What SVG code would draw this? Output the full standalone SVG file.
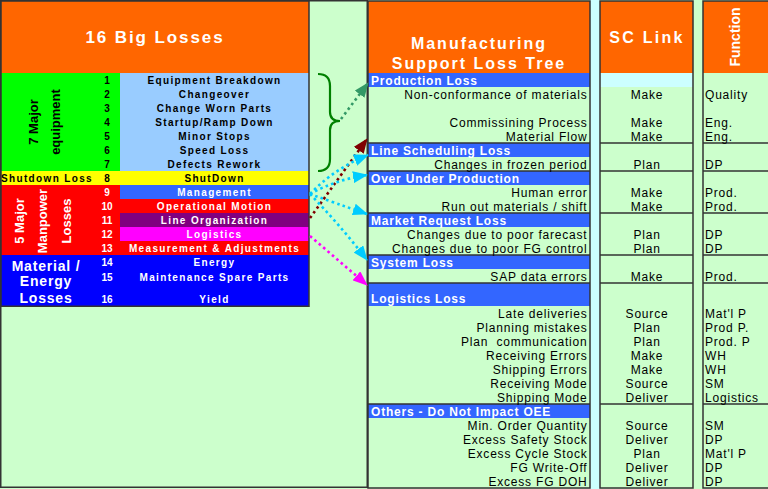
<svg xmlns="http://www.w3.org/2000/svg" width="768" height="489" viewBox="0 0 768 489">
<style>
text{font-family:"Liberation Sans",Arial,sans-serif}
.lb{font-weight:bold;font-size:10px;letter-spacing:1.35px;text-anchor:middle;fill:#000}
.num{font-weight:bold;font-size:10px;text-anchor:middle;fill:#000}
.hd{font-weight:bold;fill:#fff;text-anchor:middle}
.grp{font-weight:bold;font-size:13px;text-anchor:middle}
.sec{font-weight:bold;font-size:12px;letter-spacing:0.8px;fill:#fff}
.dt{font-size:12px;letter-spacing:0.8px;fill:#000;text-anchor:end}
.sc{font-size:12px;letter-spacing:0.8px;fill:#000;text-anchor:middle}
.fn{font-size:12px;letter-spacing:0.8px;fill:#000}
text.lw{fill:#fff}
.bd{fill:none;stroke:#333;stroke-width:1.5}
.hl{stroke:#333;stroke-width:1.5}
.dot{fill:none;stroke-width:2.6;stroke-dasharray:2.6 3.2}
</style>
<defs>
<marker id="mg" viewBox="0 0 15 12" refX="14" refY="6" markerWidth="15" markerHeight="12" markerUnits="userSpaceOnUse" orient="auto"><path d="M0,0 L15,6 L0,12 z" fill="#339966"/></marker>
<marker id="mr" viewBox="0 0 15 12" refX="14" refY="6" markerWidth="15" markerHeight="12" markerUnits="userSpaceOnUse" orient="auto"><path d="M0,0 L15,6 L0,12 z" fill="#7F0000"/></marker>
<marker id="mc" viewBox="0 0 15 12" refX="14" refY="6" markerWidth="15" markerHeight="12" markerUnits="userSpaceOnUse" orient="auto"><path d="M0,0 L15,6 L0,12 z" fill="#00CCFF"/></marker>
<marker id="mm" viewBox="0 0 15 12" refX="14" refY="6" markerWidth="15" markerHeight="12" markerUnits="userSpaceOnUse" orient="auto"><path d="M0,0 L15,6 L0,12 z" fill="#FF00FF"/></marker>
</defs>
<rect x="0" y="0" width="768" height="489" fill="#CCFFCC"/>

<g id="big-losses">
<rect x="0" y="0" width="309" height="73" fill="#FF6600"/>
<text class="hd" x="155" y="43" font-size="17" letter-spacing="1.9">16 Big Losses</text>
<rect x="0" y="73" width="120" height="98" fill="#00FF00"/>
<rect x="120" y="73" width="189" height="98" fill="#99CCFF"/>
<rect x="0" y="171" width="309" height="14" fill="#FFFF00"/>
<rect x="0" y="185" width="309" height="70" fill="#FF0000"/>
<rect x="120" y="185" width="189" height="14" fill="#3366FF"/>
<rect x="120" y="213" width="189" height="14" fill="#800080"/>
<rect x="120" y="227" width="189" height="14" fill="#FF00FF"/>
<rect x="0" y="255" width="309" height="51" fill="#0000FF"/>
<rect class="bd" x="0.75" y="0.75" width="308.25" height="305.5"/>
</g>

<g id="equipment-losses">
<text class="grp" transform="translate(38,122) rotate(-90)">7 Major</text>
<text class="grp" transform="translate(60,122) rotate(-90)">equipment</text>
<text class="num" x="107" y="84.3">1</text><text class="lb" x="214.5" y="84.3">Equipment Breakdown</text>
<text class="num" x="107" y="98.3">2</text><text class="lb" x="214.5" y="98.3">Changeover</text>
<text class="num" x="107" y="112.3">3</text><text class="lb" x="214.5" y="112.3">Change Worn Parts</text>
<text class="num" x="107" y="126.3">4</text><text class="lb" x="214.5" y="126.3">Startup/Ramp Down</text>
<text class="num" x="107" y="140.3">5</text><text class="lb" x="214.5" y="140.3">Minor Stops</text>
<text class="num" x="107" y="154.3">6</text><text class="lb" x="214.5" y="154.3">Speed Loss</text>
<text class="num" x="107" y="168.3">7</text><text class="lb" x="214.5" y="168.3">Defects Rework</text>
</g>

<g id="shutdown-loss">
<text class="lb" x="1" y="182.3" style="text-anchor:start">Shutdown Loss</text>
<text class="num" x="107" y="182.3">8</text><text class="lb" x="214.5" y="182.3">ShutDown</text>
</g>

<g id="manpower-losses">
<text class="grp lw" transform="translate(24,221) rotate(-90)">5 Major</text>
<text class="grp lw" transform="translate(47,221) rotate(-90)">Manpower</text>
<text class="grp lw" transform="translate(71,221) rotate(-90)">Losses</text>
<text class="num lw" x="107" y="196.3">9</text><text class="lb lw" x="214.5" y="196.3">Management</text>
<text class="num lw" x="107" y="210.3">10</text><text class="lb lw" x="214.5" y="210.3">Operational Motion</text>
<text class="num lw" x="107" y="224.3">11</text><text class="lb lw" x="214.5" y="224.3">Line Organization</text>
<text class="num lw" x="107" y="238.3">12</text><text class="lb lw" x="214.5" y="238.3">Logistics</text>
<text class="num lw" x="107" y="252.3">13</text><text class="lb lw" x="214.5" y="252.3">Measurement &amp; Adjustments</text>
</g>

<g id="material-energy-losses">
<text class="hd" x="46" y="270.5" font-size="14" letter-spacing="0.8">Material /</text>
<text class="hd" x="46" y="286" font-size="14" letter-spacing="0.8">Energy</text>
<text class="hd" x="46" y="303" font-size="14" letter-spacing="0.8">Losses</text>
<text class="num lw" x="107" y="265.5">14</text><text class="lb lw" x="214.5" y="265.5">Energy</text>
<text class="num lw" x="107" y="280.5">15</text><text class="lb lw" x="214.5" y="280.5">Maintenance Spare Parts</text>
<text class="num lw" x="107" y="302.5">16</text><text class="lb lw" x="214.5" y="302.5">Yield</text>
</g>

<rect id="left-panel" class="bd" x="0.75" y="0.75" width="366.5" height="486.5"/>

<g id="loss-tree">
<rect x="590" y="0" width="10" height="489" fill="#CCFFFF"/>
<rect x="368" y="1" width="222" height="72" fill="#FF6600"/>
<rect x="600" y="1" width="93" height="72" fill="#FF6600"/>
<rect x="600" y="73" width="93" height="14" fill="#CCFFFF"/>
<rect x="703" y="1" width="65" height="72" fill="#FF6600"/>
<text class="hd" x="479" y="49" font-size="16" letter-spacing="2">Manufacturing</text>
<text class="hd" x="479" y="69" font-size="16" letter-spacing="2">Support Loss Tree</text>
<text class="hd" x="647" y="43" font-size="16" letter-spacing="2.3">SC Link</text>
<text class="hd" transform="translate(740,37) rotate(-90)" font-size="14">Function</text>
<rect x="368" y="73" width="222" height="14" fill="#3366FF"/>
<rect x="368" y="143" width="222" height="14" fill="#3366FF"/>
<rect x="368" y="171" width="222" height="14" fill="#3366FF"/>
<rect x="368" y="213" width="222" height="14" fill="#3366FF"/>
<rect x="368" y="255" width="222" height="14" fill="#3366FF"/>
<rect x="368" y="283" width="222" height="23" fill="#3366FF"/>
<rect x="368" y="404" width="222" height="14" fill="#3366FF"/>
<g class="hl">
<line x1="368" y1="143" x2="590" y2="143"/><line x1="600" y1="143" x2="693" y2="143"/><line x1="703" y1="143" x2="768" y2="143"/>
<line x1="368" y1="171" x2="590" y2="171"/><line x1="600" y1="171" x2="693" y2="171"/><line x1="703" y1="171" x2="768" y2="171"/>
<line x1="368" y1="213" x2="590" y2="213"/><line x1="600" y1="213" x2="693" y2="213"/><line x1="703" y1="213" x2="768" y2="213"/>
<line x1="368" y1="255" x2="590" y2="255"/><line x1="600" y1="255" x2="693" y2="255"/><line x1="703" y1="255" x2="768" y2="255"/>
<line x1="368" y1="283" x2="590" y2="283"/><line x1="600" y1="283" x2="693" y2="283"/><line x1="703" y1="283" x2="768" y2="283"/>
<line x1="368" y1="404" x2="590" y2="404"/><line x1="600" y1="404" x2="693" y2="404"/><line x1="703" y1="404" x2="768" y2="404"/>
</g>
<rect class="bd" x="368" y="1" width="222" height="487"/>
<rect class="bd" x="600" y="1" width="93" height="487"/>
<rect class="bd" x="703" y="1" width="66" height="487"/>

<text class="sec" x="371" y="84.5">Production Loss</text>
<text class="dt" x="587.5" y="98.5">Non-conformance of materials</text><text class="sc" x="647" y="98.5">Make</text><text class="fn" x="705" y="98.5">Quality</text>
<text class="dt" x="587.5" y="126.5">Commissining Process</text><text class="sc" x="647" y="126.5">Make</text><text class="fn" x="705" y="126.5">Eng.</text>
<text class="dt" x="587.5" y="140.5">Material Flow</text><text class="sc" x="647" y="140.5">Make</text><text class="fn" x="705" y="140.5">Eng.</text>
<text class="sec" x="371" y="154.5">Line Scheduling Loss</text>
<text class="dt" x="587.5" y="168.5">Changes in frozen period</text><text class="sc" x="647" y="168.5">Plan</text><text class="fn" x="705" y="168.5">DP</text>
<text class="sec" x="371" y="182.5">Over Under Production</text>
<text class="dt" x="587.5" y="196.5">Human error</text><text class="sc" x="647" y="196.5">Make</text><text class="fn" x="705" y="196.5">Prod.</text>
<text class="dt" x="587.5" y="210.5">Run out materials / shift</text><text class="sc" x="647" y="210.5">Make</text><text class="fn" x="705" y="210.5">Prod.</text>
<text class="sec" x="371" y="224.5">Market Request Loss</text>
<text class="dt" x="587.5" y="238.5">Changes due to poor farecast</text><text class="sc" x="647" y="238.5">Plan</text><text class="fn" x="705" y="238.5">DP</text>
<text class="dt" x="587.5" y="252.5">Changes due to poor FG control</text><text class="sc" x="647" y="252.5">Plan</text><text class="fn" x="705" y="252.5">DP</text>
<text class="sec" x="371" y="266.5">System Loss</text>
<text class="dt" x="587.5" y="280.5">SAP data errors</text><text class="sc" x="647" y="280.5">Make</text><text class="fn" x="705" y="280.5">Prod.</text>
<text class="sec" x="371" y="303">Logistics Loss</text>
<text class="dt" x="587.5" y="317.5">Late deliveries</text><text class="sc" x="647" y="317.5">Source</text><text class="fn" x="705" y="317.5">Mat'l P</text>
<text class="dt" x="587.5" y="331.5">Planning mistakes</text><text class="sc" x="647" y="331.5">Plan</text><text class="fn" x="705" y="331.5">Prod P.</text>
<text class="dt" x="587.5" y="345.5" xml:space="preserve">Plan  communication</text><text class="sc" x="647" y="345.5">Plan</text><text class="fn" x="705" y="345.5">Prod. P</text>
<text class="dt" x="587.5" y="359.5">Receiving Errors</text><text class="sc" x="647" y="359.5">Make</text><text class="fn" x="705" y="359.5">WH</text>
<text class="dt" x="587.5" y="373.5">Shipping Errors</text><text class="sc" x="647" y="373.5">Make</text><text class="fn" x="705" y="373.5">WH</text>
<text class="dt" x="587.5" y="387.5">Receiving Mode</text><text class="sc" x="647" y="387.5">Source</text><text class="fn" x="705" y="387.5">SM</text>
<text class="dt" x="587.5" y="401.5">Shipping Mode</text><text class="sc" x="647" y="401.5">Deliver</text><text class="fn" x="705" y="401.5">Logistics</text>
<text class="sec" x="371" y="415.5">Others - Do Not Impact OEE</text>
<text class="dt" x="587.5" y="429.5">Min. Order Quantity</text><text class="sc" x="647" y="429.5">Source</text><text class="fn" x="705" y="429.5">SM</text>
<text class="dt" x="587.5" y="443.5">Excess Safety Stock</text><text class="sc" x="647" y="443.5">Deliver</text><text class="fn" x="705" y="443.5">DP</text>
<text class="dt" x="587.5" y="457.5">Excess Cycle Stock</text><text class="sc" x="647" y="457.5">Plan</text><text class="fn" x="705" y="457.5">Mat'l P</text>
<text class="dt" x="587.5" y="471.5">FG Write-Off</text><text class="sc" x="647" y="471.5">Deliver</text><text class="fn" x="705" y="471.5">DP</text>
<text class="dt" x="587.5" y="485.5">Excess FG DOH</text><text class="sc" x="647" y="485.5">Deliver</text><text class="fn" x="705" y="485.5">DP</text>
</g>

<g id="connectors">
<path d="M318,74 Q330,74 330,86 L330,112 Q330,121 340,121 Q330,121 330,130 L330,159 Q330,171 318,171" fill="none" stroke="#008000" stroke-width="2.2"/>
<path class="dot" d="M341,119 L368,83" stroke="#339966" marker-end="url(#mg)"/>
<path class="dot" d="M310,218 L367,139" stroke="#7F0000" marker-end="url(#mr)"/>
<path class="dot" d="M310,194 Q335,168 368,155" stroke="#00CCFF" marker-end="url(#mc)"/>
<path class="dot" d="M310,194 Q335,180 367,175" stroke="#00CCFF" marker-end="url(#mc)"/>
<path class="dot" d="M310,194 Q335,203 367,214" stroke="#00CCFF" marker-end="url(#mc)"/>
<path class="dot" d="M310,194 Q340,225 367,260" stroke="#00CCFF" marker-end="url(#mc)"/>
<path class="dot" d="M310,236 L367,285" stroke="#FF00FF" marker-end="url(#mm)"/>
</g>
</svg>
